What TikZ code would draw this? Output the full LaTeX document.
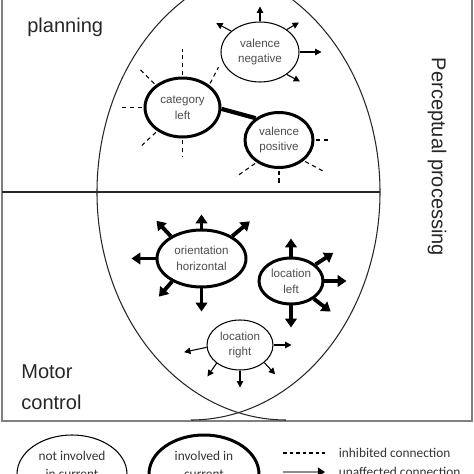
\documentclass[tikz,border=0pt]{standalone}
\usepackage{fontspec}
\setmainfont{Liberation Sans}
\newfontfamily\legendfont{Carlito}
\usepackage{tikz}
\usetikzlibrary{shapes.geometric, arrows.meta}
\usetikzlibrary{positioning}
\tikzstyle{unit}=[draw, ellipse, inner sep=0pt, align=center, text=black!70,
                  font=\fontsize{6.6}{9}\selectfont]
\tikzstyle{legendnode}=[draw, ellipse, inner sep=0pt, minimum width=2.2cm, minimum height=1.56cm]

\begin{document}
\begin{tikzpicture}[x=0.02cm, y=0.02cm,
 idle/.style={unit, line width=0.6pt},
 active/.style={unit, line width=1.7pt},
 inhib/.style={line width=0.6pt, dash pattern=on 2.4pt off 2pt, shorten <=1pt},
 plain/.style={line width=0.6pt, -{Triangle[length=3.6pt, width=3.6pt]}},
 boost/.style={line width=2.2pt, -{Triangle[length=5pt, width=6.5pt]}},
 frontier/.style={line width=0.6pt, black!85},
 region/.style={inner sep=0pt, text=black!85, font=\fontsize{11.4}{18}\selectfont},
 legtext/.style={inner sep=2pt, text=black!80, align=center, font=\legendfont\fontsize{7.6}{10.2}\selectfont}
 ]
 \useasboundingbox (0,0) rectangle (474,474);

 %Frame and regions
 \draw[black!50, line width=1pt] (2,474) |- (472,53) -- (472,474);
 \draw[frontier] (2,282) -- (380,282);
 \draw[frontier] (286,282) ++(122.6:189 and 228) arc[start angle=122.6, end angle=270, x radius=189, y radius=228];
 \draw[frontier] (191,282) ++(57.4:189 and 228) arc[start angle=57.4, end angle=-90, x radius=189, y radius=228];

 \node[region, anchor=base west] (planning) at (27,441) {planning};
 \node[region, anchor=north west, align=left] (motor) at (21,110) {Motor\\control};
 \node[region, rotate=-90] (percept) at (437,317) {Perceptual processing};

 %Nodes
 \node[idle, minimum width=1.56cm, minimum height=1.2cm] (vneg) at (260,422) {valence\\negative};
 \node[active, minimum width=1.5cm, minimum height=1.18cm] (catleft) at (182.5,366.5) {category\\left};
 \node[active, minimum width=1.36cm, minimum height=1.1cm] (vpos) at (279,334) {valence\\positive};
 \node[active, minimum width=1.78cm, minimum height=1.14cm] (orient) at (201.5,215.5) {orientation\\horizontal};
 \node[active, minimum width=1.28cm, minimum height=0.92cm] (locleft) at (291,193) {location\\left};
 \node[idle, minimum width=1.32cm, minimum height=1cm] (locright) at (240,129) {location\\right};

 %Lines
 \draw[line width=2.4pt] (catleft.358) -- (vpos.137);
 \foreach \a/\d/\l in {90/90/15, 144/152/17, 40/30/14, 0/0/22, 320/332/15}
   \draw[plain] (vneg.\a) -- ++(\d:\l);
 \foreach \a/\d/\l in {90/90/28, 140/135/23, 40/63/20, 180/180/23, 223/223/21, 270/270/18}
   \draw[inhib] (catleft.\a) -- ++(\d:\l);
 \foreach \a/\d/\l in {0/0/17, 320/332/23, 270/270/17, 225/215/25}
   \draw[inhib] (vpos.\a) -- ++(\d:\l);
 \foreach \a/\d/\l in {90/90/14, 144/133/21, 36/40/23, 180/180/24, 218/229/20, 270/270/23}
   \draw[boost] (orient.\a) -- ++(\d:\l);
 \foreach \a/\d/\l in {90/90/18, 34/33/21, 0/0/22, 322/323/21, 270/270/22}
   \draw[boost] (locleft.\a) -- ++(\d:\l);
 \foreach \a/\d/\l in {184/192/23, 0/0/18, 218/235/16, 270/270/17, 324/313/16}
   \draw[plain] (locright.\a) -- ++(\d:\l);

 %Legend
 \node[legendnode, line width=0.6pt] (notinv) at (72,0) {};
 \node[legendnode, line width=1.7pt, right=0.4cm of notinv] (inv) {};
 \node[legtext] (notinvtext) at ([yshift=0.18cm]notinv.center) {not involved\\in current};
 \node[legtext] (invtext) at ([yshift=0.18cm]inv.center) {involved in\\current};

 \coordinate (inhA) at (283,21);
 \coordinate (inhB) at (325,21);
 \draw[inhib, shorten <=0pt, dash pattern=on 2.2pt off 1.5pt] (inhA) -- (inhB);
 \node[legtext, right=0.2cm of inhB] (inhtext) {inhibited connection};
 \coordinate (plainA) at (283,2);
 \coordinate (plainB) at (325,2);
 \draw[line width=1.6pt, black!45, -{Triangle[length=4pt, width=5pt, color=black]}] (plainA) -- (plainB);
 \node[legtext, right=0.2cm of plainB] (plaintext) {unaffected connection};
\end{tikzpicture}
\end{document}
